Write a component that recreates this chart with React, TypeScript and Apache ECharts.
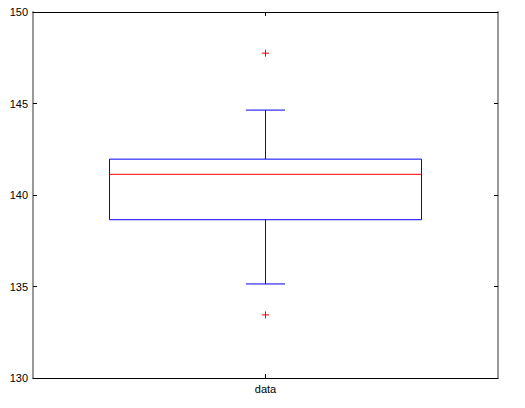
import React, { useEffect, useRef } from 'react';
import * as echarts from 'echarts';

// five-number summary: lower whisker, q1, median, q3, upper whisker
const categories = ['data'];
const boxStats = [[135.14, 138.65, 141.13, 141.96, 144.64]];
const outliers = [147.75, 133.45];
const yTicks = { min: 130, max: 150, interval: 5 };

const BOX_FRAC = 0.671;
const CAP_FRAC = 0.084;
const font = '"Liberation Sans", Arial, sans-serif';

// keep vertical 1px lines crisp
const snap = (v: number) => Math.round(v - 0.5) + 0.5;

export default function App() {
  const ref = useRef<HTMLDivElement>(null);

  useEffect(() => {
    document.body.style.margin = '0';
    if (!ref.current) return;
    const chart = echarts.init(ref.current, null, { renderer: 'svg' });

    const yAxisBase = {
      type: 'value' as const,
      min: yTicks.min,
      max: yTicks.max,
      interval: yTicks.interval,
      splitLine: { show: false },
      axisLine: { show: true, lineStyle: { color: '#999999', width: 2 } },
      axisTick: { show: true, inside: true, length: 4, lineStyle: { color: '#000' } },
    };

    chart.setOption({
      animation: false,
      grid: { left: 33, right: 27, top: 12, bottom: 30 },
      xAxis: [
        {
          type: 'category',
          data: categories,
          position: 'bottom',
          axisLine: { show: true, lineStyle: { color: '#000', width: 1 } },
          axisTick: { show: true, inside: true, length: 4, alignWithLabel: true, lineStyle: { color: '#000' } },
          axisLabel: { color: '#000', fontSize: 11, fontFamily: font, margin: 5 },
          splitLine: { show: false },
        },
        {
          type: 'category',
          data: categories,
          position: 'top',
          axisLine: { show: true, lineStyle: { color: '#000', width: 1 } },
          axisTick: { show: true, inside: true, length: 4, alignWithLabel: true, lineStyle: { color: '#000' } },
          axisLabel: { show: false },
          splitLine: { show: false },
        },
      ],
      yAxis: [
        {
          ...yAxisBase,
          position: 'left',
          axisLabel: { color: '#000', fontSize: 11, fontFamily: font, margin: 5 },
        },
        {
          ...yAxisBase,
          position: 'right',
          axisLabel: { show: false },
        },
      ],
      series: [
        {
          type: 'custom',
          xAxisIndex: 0,
          yAxisIndex: 0,
          data: boxStats.map((s, i) => [i, ...s]),
          renderItem: (_params: any, api: any) => {
            const idx = api.value(0);
            const band = api.size([1, 0])[0];
            const lo = api.coord([idx, api.value(1)]);
            const q1 = api.coord([idx, api.value(2)]);
            const med = api.coord([idx, api.value(3)]);
            const q3 = api.coord([idx, api.value(4)]);
            const hi = api.coord([idx, api.value(5)]);
            const cx = snap(lo[0]);
            const hw = (band * BOX_FRAC) / 2;
            const cw = (band * CAP_FRAC) / 2;
            const bl = snap(cx - hw);
            const br = snap(cx + hw);
            const blue = { stroke: '#0000ff', lineWidth: 1, fill: 'none' };
            return {
              type: 'group',
              children: [
                { type: 'line', shape: { x1: cx, y1: q1[1], x2: cx, y2: lo[1] }, style: blue },
                { type: 'line', shape: { x1: cx, y1: q3[1], x2: cx, y2: hi[1] }, style: blue },
                { type: 'line', shape: { x1: cx - cw, y1: lo[1], x2: cx + cw, y2: lo[1] }, style: blue },
                { type: 'line', shape: { x1: cx - cw, y1: hi[1], x2: cx + cw, y2: hi[1] }, style: blue },
                {
                  type: 'rect',
                  shape: { x: bl, y: q3[1], width: br - bl, height: q1[1] - q3[1] },
                  style: blue,
                },
                {
                  type: 'line',
                  shape: { x1: bl, y1: med[1], x2: br, y2: med[1] },
                  style: { stroke: '#ff0000', lineWidth: 1 },
                },
              ],
            };
          },
        },
        {
          type: 'custom',
          xAxisIndex: 0,
          yAxisIndex: 0,
          data: outliers.map((v) => [0, v]),
          renderItem: (_params: any, api: any) => {
            const p = api.coord([api.value(0), api.value(1)]);
            const x = snap(p[0]);
            const r = 3.5;
            const red = { stroke: '#ff0000', lineWidth: 1 };
            return {
              type: 'group',
              children: [
                { type: 'line', shape: { x1: x - r, y1: p[1], x2: x + r, y2: p[1] }, style: red },
                { type: 'line', shape: { x1: x, y1: p[1] - r, x2: x, y2: p[1] + r }, style: red },
              ],
            };
          },
        },
      ],
    });

    return () => chart.dispose();
  }, []);

  return <div ref={ref} style={{ width: 525, height: 408 }} />;
}
